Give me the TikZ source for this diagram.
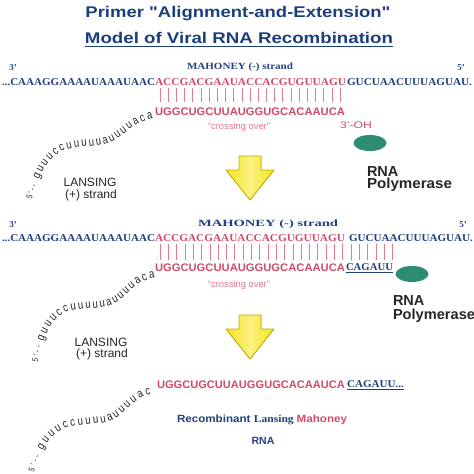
\documentclass[tikz,border=0pt]{standalone}
\usepackage{fontspec}
\setmainfont{Liberation Serif}
\setsansfont{Liberation Sans}
\newfontfamily\titlefont{Liberation Sans}
\newfontfamily\narrowsans[FakeStretch=0.8]{Liberation Sans}
\usepackage{graphicx}
\usetikzlibrary{shapes.geometric,decorations.text,calc}
\definecolor{tblue}{HTML}{1C3F7C}
\definecolor{sblue}{HTML}{22407F}
\definecolor{sred}{HTML}{D24A68}
\definecolor{lred}{HTML}{E07A8C}
\definecolor{pgreen}{HTML}{2E8C74}
\definecolor{yfill}{HTML}{F6E61C}
\definecolor{yedge}{HTML}{C2AA00}
\newcommand{\fw}[2]{\resizebox{#1}{\height}{#2}}
\newcommand{\smallfive}{\fontsize{8.5}{9}\narrowsans\selectfont}
\newcommand{\curvefont}{\fontsize{12}{14}\narrowsans\selectfont}
\tikzset{
  title/.style={font=\fontsize{15.5}{18}\titlefont\bfseries\selectfont, text=tblue},
  topstrand/.style={anchor=west, font=\fontsize{10.5}{12}\rmfamily\bfseries\selectfont},
  lowstrand/.style={anchor=west, font=\fontsize{11}{13}\sffamily\bfseries\selectfont, text=sred},
  endlab/.style={font=\fontsize{9}{10}\rmfamily\bfseries\selectfont, text=sblue},
  mahlab/.style={font=\fontsize{9.5}{10}\rmfamily\bfseries\selectfont, text=sblue},
  cross/.style={font=\fontsize{9.5}{11}\sffamily\selectfont, text=lred},
  pollab/.style={anchor=base west, font=\fontsize{14.5}{16}\sffamily\bfseries\selectfont, text=black!85},
  lanlab/.style={font=\fontsize{12}{14}\sffamily\selectfont, text=black!85, align=center},
  bar/.style={draw=lred, line width=0.5pt},
  pol/.style={ellipse, fill=pgreen, minimum width=33pt, minimum height=16pt},
  yarrow/.style={top color=yfill, bottom color=yfill, middle color=yfill!55!white, shading angle=90},
  yedgeline/.style={draw=yedge, line width=0.8pt, line join=round},
  curvetext/.style={decorate, decoration={text along path, text align={fit to path},
     text color=black!85}}
}
\begin{document}
\begin{tikzpicture}[x=1pt,y=-1pt, every node/.style={inner sep=0pt, outer sep=0pt}]
\useasboundingbox (0,0) rectangle (474,474);
% title
\node[title] (t1) at (238,14) {\fw{305pt}{Primer "Alignment-and-Extension"}};
\node[title] (t2) at (239,38) {\fw{308pt}{Model of Viral RNA Recombination}};
\draw[tblue, line width=1.2pt] ($(t2.south west)+(0,2.5)$) -- ($(t2.south east)+(0,2.5)$);

% ===== section 1 =====
\node[endlab] (a3) at (13,68) {3'};
\node[endlab] (a5) at (461,68) {5'};
\node[mahlab] (am) at (240,67) {\fw{106pt}{MAHONEY (-) strand}};
\node[topstrand, text=sblue] (ab1) at (2,82) {\fw{153pt}{...CAAAGGAAAAUAAAUAAC}};
\node[topstrand, text=sred] (ar) at (155,82) {\fw{191pt}{ACCGACGAAUACCACGUGUUAGU}};
\node[topstrand, text=sblue] (ab2) at (347,82) {\fw{125pt}{GUCUAACUUUAGUAU.}};
\foreach \i in {0,...,22} \draw[bar] ({160+\i*8.18},88) -- ++(0,14);
\node[lowstrand] (al) at (155,112) {\fw{190pt}{UGGCUGCUUAUGGUGCACAAUCA}};
\node[cross] (ac) at (239,127) {\fw{62pt}{``crossing over''}};
\node[cross, text=sred] (aoh) at (356,125) {\fw{32pt}{3'-OH}};
\node[pol] (ap) at (370,143) {};
\node[pollab] (apr) at (367,176) {RNA};
\node[pollab] (app) at (367,188.5) {\fw{85pt}{Polymerase}};
\path[curvetext, decoration={text={|\smallfive|5'-- |\curvefont|guuuccuuuuuauuuuaca}}]
  (32,200) .. controls (38,178) and (48,152) .. (72,148) .. controls (92,145) and (102,147) .. (115,140)
  .. controls (127,133) and (136,121) .. (153,119);
\node[lanlab] (al1) at (90,182) {LANSING};
\node[lanlab] (al2) at (91,195) {(+) strand};
\fill[yarrow] (239,156) -- (261,156) -- (261,170) -- (274,170) -- (250,200) -- (226,170) -- (239,170) -- cycle;
\draw[yedgeline] (239,156) -- (261,156) -- (261,170) -- (274,170) -- (250,200) -- (226,170) -- (239,170) -- cycle;

% ===== section 2 =====
\node[endlab] (b3) at (13,225) {3'};
\node[endlab] (b5) at (463,225) {5'};
\node[mahlab] (bm) at (268,224) {\fw{140pt}{MAHONEY (-) strand}};
\node[topstrand, text=sblue] (bb1) at (2,238) {\fw{153pt}{...CAAAGGAAAAUAAAUAAC}};
\node[topstrand, text=sred] (br) at (155,238) {\fw{190pt}{ACCGACGAAUACCACGUGUUAGU}};
\node[topstrand, text=sblue] (bb2) at (349,238) {\fw{124pt}{GUCUAACUUUAGUAU.}};
\foreach \i in {0,...,28} \draw[bar] ({160+\i*8.3},244) -- ++(0,16);
\node[lowstrand] (bl) at (155,268) {\fw{190pt}{UGGCUGCUUAUGGUGCACAAUCA}};
\node[topstrand, text=sblue] (bc) at (346,268) {\fw{47pt}{\underline{CAGAUU}}};
\node[cross] (bcr) at (239,285) {\fw{62pt}{``crossing over''}};
\node[pol] (bp) at (412,274) {};
\node[pollab] (bpr) at (393,305) {RNA};
\node[pollab] (bpp) at (393,319.5) {\fw{82pt}{Polymerase}};
\path[curvetext, decoration={text={|\smallfive|5'-- |\curvefont|guuuccuuuuuauuuuaca}}]
  (38,362) .. controls (43,336) and (52,313) .. (75,310) .. controls (94,307) and (105,309) .. (117,302)
  .. controls (129,294) and (138,279) .. (155,278);
\node[lanlab] (bl1) at (101,342) {LANSING};
\node[lanlab] (bl2) at (102,354) {(+) strand};
\fill[yarrow] (239,315) -- (261,315) -- (261,329) -- (274,329) -- (250,359) -- (226,329) -- (239,329) -- cycle;
\draw[yedgeline] (239,315) -- (261,315) -- (261,329) -- (274,329) -- (250,359) -- (226,329) -- (239,329) -- cycle;

% ===== section 3 =====
\node[lowstrand] (cl) at (157,385) {\fw{188pt}{UGGCUGCUUAUGGUGCACAAUCA}};
\node[topstrand, text=sblue] (cc) at (347,385) {\fw{57pt}{\underline{CAGAUU...}}};
\path[curvetext, decoration={text={|\smallfive|5'-- |\curvefont|guuuccuuuuauuuuac}}]
  (34,472) .. controls (40,452) and (50,430) .. (74,426) .. controls (93,423) and (104,425) .. (116,418)
  .. controls (127,411) and (135,397) .. (151,394);
\node[anchor=west, font=\fontsize{10.5}{12}\selectfont] (crec) at (177,420)
  {\fw{170pt}{\sffamily\bfseries\color{sblue}Recombinant \rmfamily Lansing \sffamily\color{sred}Mahoney}};
\node[font=\fontsize{10.5}{12}\sffamily\bfseries\selectfont, text=sblue] (crna) at (263,441) {RNA};
\end{tikzpicture}
\end{document}
